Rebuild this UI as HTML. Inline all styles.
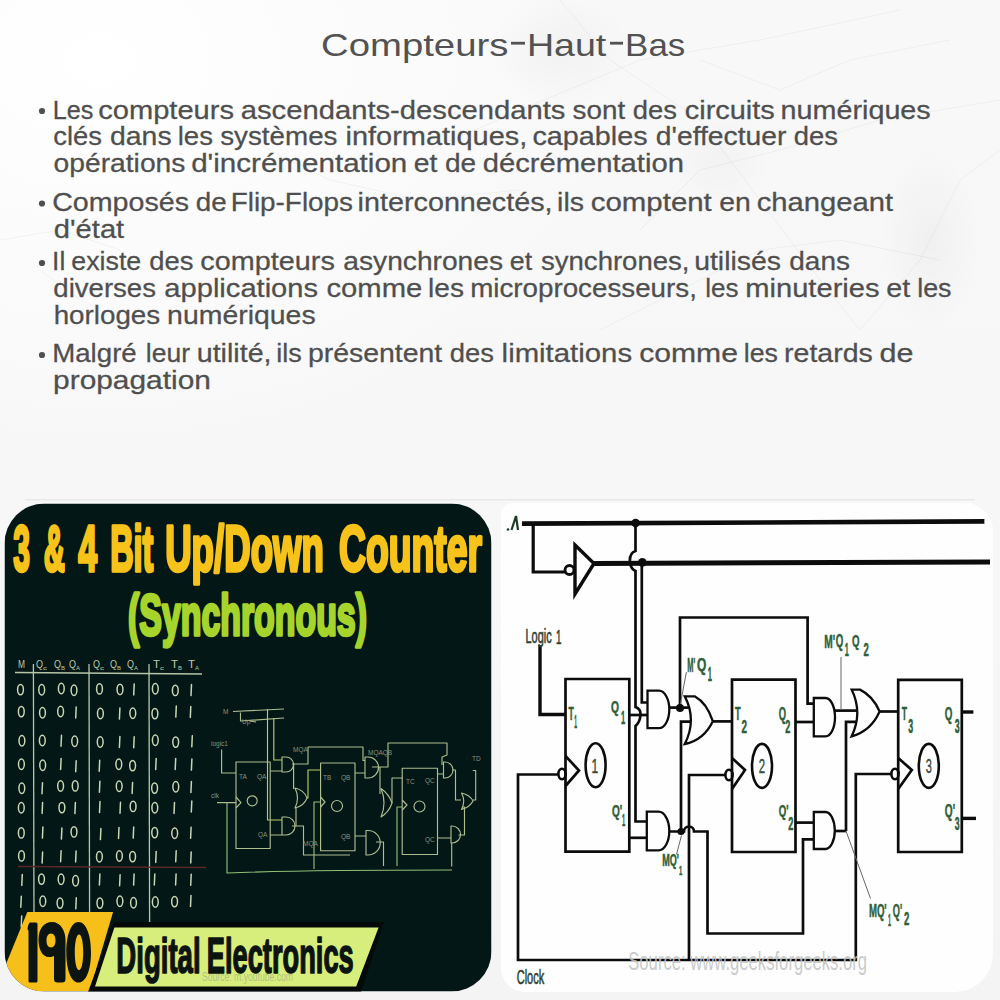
<!DOCTYPE html>
<html><head><meta charset="utf-8">
<style>
html,body{margin:0;padding:0;width:1000px;height:1000px;overflow:hidden;}
body{background:radial-gradient(ellipse 55% 40% at 10% 6%, #ffffff 0%, rgba(255,255,255,0) 100%),radial-gradient(ellipse 7% 6% at 56% 5%, rgba(0,0,0,0.035), rgba(0,0,0,0) 100%),radial-gradient(ellipse 5% 9% at 93% 24%, rgba(0,0,0,0.03), rgba(0,0,0,0) 100%),radial-gradient(ellipse 5% 5% at 72% 16%, rgba(0,0,0,0.025), rgba(0,0,0,0) 100%),linear-gradient(#f8f8f8 0%, #f7f7f7 60%, #f4f4f4 100%);font-family:"Liberation Sans",sans-serif;position:relative;}
svg{position:absolute;left:0;top:0;}
</style></head><body>
<svg width="1000" height="1000" viewBox="0 0 1000 1000">
<g id="tex" fill="none" stroke="#000" stroke-opacity="0.045" stroke-width="1">
<path d="M560,0 L610,60 L700,120 L760,200 L820,280 L860,330"/>
<path d="M430,150 L520,110 L640,60 L760,40 L900,10"/>
<path d="M640,230 L700,170 L780,150 L880,120 L1000,100"/>
<path d="M700,60 L780,90 L850,60 L950,40"/>
<path d="M860,330 L920,260 L960,180 L1000,150"/>
<path d="M600,330 L680,290 L760,250 L840,240 L940,260"/>
<path d="M0,240 L60,230 L120,250 M40,270 L80,300"/>
<path d="M250,140 L330,180 L420,200 L520,190"/>
</g>
<!--TEXTSTART-->
<g font-family="Liberation Sans, sans-serif" stroke="#4f4f4f" stroke-width="0.25">
<text x="321.05" y="55.50" font-size="32.20" fill="#525252" textLength="187.33" lengthAdjust="spacingAndGlyphs" stroke-width="0">Compteurs</text>
<text x="526.92" y="55.50" font-size="32.20" fill="#525252" textLength="79.36" lengthAdjust="spacingAndGlyphs" stroke-width="0">Haut</text>
<text x="625.14" y="55.50" font-size="32.20" fill="#525252" textLength="60.12" lengthAdjust="spacingAndGlyphs" stroke-width="0">Bas</text>
<rect x="511" y="41.8" width="14" height="2.8" fill="#525252" stroke-width="0"/><rect x="610" y="41.8" width="13" height="2.8" fill="#525252" stroke-width="0"/>
<g transform="translate(0 118.75) scale(1 1.05) translate(0 -118.75)">
<text x="52.68" y="118.75" font-size="24.00" fill="#4f4f4f" textLength="40.63" lengthAdjust="spacingAndGlyphs">Les</text>
<text x="98.26" y="118.75" font-size="24.00" fill="#4f4f4f" textLength="135.79" lengthAdjust="spacingAndGlyphs">compteurs</text>
<text x="240.76" y="118.75" font-size="24.00" fill="#4f4f4f" textLength="324.70" lengthAdjust="spacingAndGlyphs">ascendants-descendants</text>
<text x="572.63" y="118.75" font-size="24.00" fill="#4f4f4f" textLength="52.58" lengthAdjust="spacingAndGlyphs">sont</text>
<text x="632.85" y="118.75" font-size="24.00" fill="#4f4f4f" textLength="44.14" lengthAdjust="spacingAndGlyphs">des</text>
<text x="684.77" y="118.75" font-size="24.00" fill="#4f4f4f" textLength="89.97" lengthAdjust="spacingAndGlyphs">circuits</text>
<text x="780.59" y="118.75" font-size="24.00" fill="#4f4f4f" textLength="150.15" lengthAdjust="spacingAndGlyphs">numériques</text>
</g>
<g transform="translate(0 145.50) scale(1 1.05) translate(0 -145.50)">
<text x="53.34" y="145.50" font-size="24.00" fill="#4f4f4f" textLength="48.65" lengthAdjust="spacingAndGlyphs">clés</text>
<text x="110.01" y="145.50" font-size="24.00" fill="#4f4f4f" textLength="61.62" lengthAdjust="spacingAndGlyphs">dans</text>
<text x="177.74" y="145.50" font-size="24.00" fill="#4f4f4f" textLength="35.25" lengthAdjust="spacingAndGlyphs">les</text>
<text x="220.23" y="145.50" font-size="24.00" fill="#4f4f4f" textLength="117.28" lengthAdjust="spacingAndGlyphs">systèmes</text>
<text x="345.56" y="145.50" font-size="24.00" fill="#4f4f4f" textLength="181.74" lengthAdjust="spacingAndGlyphs">informatiques,</text>
<text x="532.48" y="145.50" font-size="24.00" fill="#4f4f4f" textLength="115.06" lengthAdjust="spacingAndGlyphs">capables</text>
<text x="655.82" y="145.50" font-size="24.00" fill="#4f4f4f" textLength="130.65" lengthAdjust="spacingAndGlyphs">d'effectuer</text>
<text x="793.85" y="145.50" font-size="24.00" fill="#4f4f4f" textLength="44.14" lengthAdjust="spacingAndGlyphs">des</text>
</g>
<g transform="translate(0 172.00) scale(1 1.05) translate(0 -172.00)">
<text x="53.61" y="172.00" font-size="24.00" fill="#4f4f4f" textLength="131.81" lengthAdjust="spacingAndGlyphs">opérations</text>
<text x="191.16" y="172.00" font-size="24.00" fill="#4f4f4f" textLength="216.16" lengthAdjust="spacingAndGlyphs">d'incrémentation</text>
<text x="413.80" y="172.00" font-size="24.00" fill="#4f4f4f" textLength="23.61" lengthAdjust="spacingAndGlyphs">et</text>
<text x="445.02" y="172.00" font-size="24.00" fill="#4f4f4f" textLength="31.23" lengthAdjust="spacingAndGlyphs">de</text>
<text x="482.77" y="172.00" font-size="24.00" fill="#4f4f4f" textLength="201.12" lengthAdjust="spacingAndGlyphs">décrémentation</text>
</g>
<g transform="translate(0 211.50) scale(1 1.05) translate(0 -211.50)">
<text x="52.15" y="211.50" font-size="24.00" fill="#4f4f4f" textLength="136.89" lengthAdjust="spacingAndGlyphs">Composés</text>
<text x="195.83" y="211.50" font-size="24.00" fill="#4f4f4f" textLength="30.90" lengthAdjust="spacingAndGlyphs">de</text>
<text x="230.71" y="211.50" font-size="24.00" fill="#4f4f4f" textLength="122.29" lengthAdjust="spacingAndGlyphs">Flip-Flops</text>
<text x="357.58" y="211.50" font-size="24.00" fill="#4f4f4f" textLength="195.01" lengthAdjust="spacingAndGlyphs">interconnectés,</text>
<text x="557.09" y="211.50" font-size="24.00" fill="#4f4f4f" textLength="26.94" lengthAdjust="spacingAndGlyphs">ils</text>
<text x="590.75" y="211.50" font-size="24.00" fill="#4f4f4f" textLength="121.07" lengthAdjust="spacingAndGlyphs">comptent</text>
<text x="719.30" y="211.50" font-size="24.00" fill="#4f4f4f" textLength="31.55" lengthAdjust="spacingAndGlyphs">en</text>
<text x="756.76" y="211.50" font-size="24.00" fill="#4f4f4f" textLength="136.45" lengthAdjust="spacingAndGlyphs">changeant</text>
</g>
<g transform="translate(0 238.00) scale(1 1.05) translate(0 -238.00)">
<text x="53.78" y="238.00" font-size="24.00" fill="#4f4f4f" textLength="70.44" lengthAdjust="spacingAndGlyphs">d'état</text>
</g>
<g transform="translate(0 270.50) scale(1 1.05) translate(0 -270.50)">
<text x="52.06" y="270.50" font-size="24.00" fill="#4f4f4f" textLength="13.20" lengthAdjust="spacingAndGlyphs">Il</text>
<text x="71.36" y="270.50" font-size="24.00" fill="#4f4f4f" textLength="69.82" lengthAdjust="spacingAndGlyphs">existe</text>
<text x="149.35" y="270.50" font-size="24.00" fill="#4f4f4f" textLength="44.24" lengthAdjust="spacingAndGlyphs">des</text>
<text x="200.38" y="270.50" font-size="24.00" fill="#4f4f4f" textLength="134.46" lengthAdjust="spacingAndGlyphs">compteurs</text>
<text x="343.30" y="270.50" font-size="24.00" fill="#4f4f4f" textLength="159.71" lengthAdjust="spacingAndGlyphs">asynchrones</text>
<text x="509.86" y="270.50" font-size="24.00" fill="#4f4f4f" textLength="22.33" lengthAdjust="spacingAndGlyphs">et</text>
<text x="541.03" y="270.50" font-size="24.00" fill="#4f4f4f" textLength="148.44" lengthAdjust="spacingAndGlyphs">synchrones,</text>
<text x="694.15" y="270.50" font-size="24.00" fill="#4f4f4f" textLength="86.87" lengthAdjust="spacingAndGlyphs">utilisés</text>
<text x="789.32" y="270.50" font-size="24.00" fill="#4f4f4f" textLength="60.69" lengthAdjust="spacingAndGlyphs">dans</text>
</g>
<g transform="translate(0 297.00) scale(1 1.05) translate(0 -297.00)">
<text x="53.34" y="297.00" font-size="24.00" fill="#4f4f4f" textLength="102.65" lengthAdjust="spacingAndGlyphs">diverses</text>
<text x="164.36" y="297.00" font-size="24.00" fill="#4f4f4f" textLength="153.69" lengthAdjust="spacingAndGlyphs">applications</text>
<text x="326.46" y="297.00" font-size="24.00" fill="#4f4f4f" textLength="95.84" lengthAdjust="spacingAndGlyphs">comme</text>
<text x="428.11" y="297.00" font-size="24.00" fill="#4f4f4f" textLength="35.91" lengthAdjust="spacingAndGlyphs">les</text>
<text x="470.16" y="297.00" font-size="24.00" fill="#4f4f4f" textLength="226.74" lengthAdjust="spacingAndGlyphs">microprocesseurs,</text>
<text x="705.24" y="297.00" font-size="24.00" fill="#4f4f4f" textLength="33.30" lengthAdjust="spacingAndGlyphs">les</text>
<text x="745.27" y="297.00" font-size="24.00" fill="#4f4f4f" textLength="134.29" lengthAdjust="spacingAndGlyphs">minuteries</text>
<text x="886.28" y="297.00" font-size="24.00" fill="#4f4f4f" textLength="23.93" lengthAdjust="spacingAndGlyphs">et</text>
<text x="917.19" y="297.00" font-size="24.00" fill="#4f4f4f" textLength="34.28" lengthAdjust="spacingAndGlyphs">les</text>
</g>
<g transform="translate(0 323.60) scale(1 1.05) translate(0 -323.60)">
<text x="53.67" y="323.60" font-size="24.00" fill="#4f4f4f" textLength="106.53" lengthAdjust="spacingAndGlyphs">horloges</text>
<text x="167.11" y="323.60" font-size="24.00" fill="#4f4f4f" textLength="148.51" lengthAdjust="spacingAndGlyphs">numériques</text>
</g>
<g transform="translate(0 362.00) scale(1 1.05) translate(0 -362.00)">
<text x="52.23" y="362.00" font-size="24.00" fill="#4f4f4f" textLength="84.50" lengthAdjust="spacingAndGlyphs">Malgré</text>
<text x="145.81" y="362.00" font-size="24.00" fill="#4f4f4f" textLength="44.23" lengthAdjust="spacingAndGlyphs">leur</text>
<text x="196.74" y="362.00" font-size="24.00" fill="#4f4f4f" textLength="74.83" lengthAdjust="spacingAndGlyphs">utilité,</text>
<text x="276.20" y="362.00" font-size="24.00" fill="#4f4f4f" textLength="25.48" lengthAdjust="spacingAndGlyphs">ils</text>
<text x="307.97" y="362.00" font-size="24.00" fill="#4f4f4f" textLength="134.24" lengthAdjust="spacingAndGlyphs">présentent</text>
<text x="449.85" y="362.00" font-size="24.00" fill="#4f4f4f" textLength="44.14" lengthAdjust="spacingAndGlyphs">des</text>
<text x="501.62" y="362.00" font-size="24.00" fill="#4f4f4f" textLength="130.44" lengthAdjust="spacingAndGlyphs">limitations</text>
<text x="639.22" y="362.00" font-size="24.00" fill="#4f4f4f" textLength="98.72" lengthAdjust="spacingAndGlyphs">comme</text>
<text x="743.80" y="362.00" font-size="24.00" fill="#4f4f4f" textLength="34.17" lengthAdjust="spacingAndGlyphs">les</text>
<text x="784.11" y="362.00" font-size="24.00" fill="#4f4f4f" textLength="88.62" lengthAdjust="spacingAndGlyphs">retards</text>
<text x="879.42" y="362.00" font-size="24.00" fill="#4f4f4f" textLength="33.94" lengthAdjust="spacingAndGlyphs">de</text>
</g>
<g transform="translate(0 389.00) scale(1 1.05) translate(0 -389.00)">
<text x="53.07" y="389.00" font-size="24.00" fill="#4f4f4f" textLength="157.87" lengthAdjust="spacingAndGlyphs">propagation</text>
</g>
</g>
<g fill="#4f4f4f">
<circle cx="42" cy="111.0" r="3.1"/>
<circle cx="42" cy="203.5" r="3.1"/>
<circle cx="42" cy="263.0" r="3.1"/>
<circle cx="42" cy="355.0" r="3.1"/>
</g>
<!--TEXTEND-->
<!-- faint separator line -->
<line x1="25" y1="499.8" x2="975" y2="499.8" stroke="#e8e8e8" stroke-width="1.4"/>
<!-- LEFT CARD -->
<!--LEFTSTART-->
<defs><clipPath id="lc"><rect x="4.5" y="503.5" width="487" height="488" rx="40"/></clipPath></defs>
<g clip-path="url(#lc)">
<rect x="4.5" y="503.5" width="487" height="488" fill="#031716"/>
<g font-family="Liberation Sans, sans-serif">
<text x="13.26" y="571.45" font-size="64.39" font-weight="bold" fill="#f7c21a" stroke="#f7c21a" stroke-width="3.50" stroke-linejoin="round" textLength="16.67" lengthAdjust="spacingAndGlyphs">3</text>
<text x="43.87" y="571.45" font-size="64.39" font-weight="bold" fill="#f7c21a" stroke="#f7c21a" stroke-width="3.50" stroke-linejoin="round" textLength="21.10" lengthAdjust="spacingAndGlyphs">&amp;</text>
<text x="78.24" y="571.45" font-size="64.39" font-weight="bold" fill="#f7c21a" stroke="#f7c21a" stroke-width="3.50" stroke-linejoin="round" textLength="18.79" lengthAdjust="spacingAndGlyphs">4</text>
<text x="110.19" y="571.45" font-size="64.39" font-weight="bold" fill="#f7c21a" stroke="#f7c21a" stroke-width="3.50" stroke-linejoin="round" textLength="43.05" lengthAdjust="spacingAndGlyphs">Bit</text>
<text x="165.15" y="571.45" font-size="64.39" font-weight="bold" fill="#f7c21a" stroke="#f7c21a" stroke-width="3.50" stroke-linejoin="round" textLength="158.77" lengthAdjust="spacingAndGlyphs">Up/Down</text>
<text x="338.92" y="571.45" font-size="64.39" font-weight="bold" fill="#f7c21a" stroke="#f7c21a" stroke-width="3.50" stroke-linejoin="round" textLength="143.20" lengthAdjust="spacingAndGlyphs">Counter</text>
<text x="128.06" y="634.75" font-size="57.68" font-weight="bold" fill="#a6d42b" stroke="#a6d42b" stroke-width="3.50" stroke-linejoin="round" textLength="238.87" lengthAdjust="spacingAndGlyphs">(Synchronous)</text>
</g>
<g stroke="#b8c6a8" stroke-width="1.3" fill="none">
<path d="M15,672.5 L202,674"/>
<path d="M33.4,664 L34.0,925"/>
<path d="M89.0,664 L89.6,925"/>
<path d="M149.0,664 L149.6,925"/>
</g>
<path d="M18,866.5 L206,867.5" stroke="#5a2626" stroke-width="1.6"/>
<g fill="none" stroke="#c8d6b4" stroke-width="1.5" stroke-linecap="round">
<ellipse cx="20.5" cy="689.6" rx="2.9" ry="5.2"/>
<ellipse cx="41.7" cy="689.7" rx="2.9" ry="5.2"/>
<ellipse cx="61.3" cy="688.5" rx="2.9" ry="5.2"/>
<ellipse cx="74.0" cy="690.3" rx="2.9" ry="5.2"/>
<ellipse cx="99.5" cy="688.9" rx="2.9" ry="5.2"/>
<ellipse cx="120.0" cy="689.4" rx="2.9" ry="5.2"/>
<path d="M134.2,683.9 L133.7,694.9"/>
<ellipse cx="155.3" cy="688.7" rx="2.9" ry="5.2"/>
<ellipse cx="175.3" cy="690.4" rx="2.9" ry="5.2"/>
<path d="M191.5,684.6 L191.0,695.6"/>
<ellipse cx="21.3" cy="711.6" rx="2.9" ry="5.2"/>
<ellipse cx="42.5" cy="712.8" rx="2.9" ry="5.2"/>
<ellipse cx="60.6" cy="711.5" rx="2.9" ry="5.2"/>
<path d="M76.2,707.0 L75.7,718.0"/>
<ellipse cx="100.4" cy="713.5" rx="2.9" ry="5.2"/>
<path d="M119.9,708.1 L119.4,719.1"/>
<ellipse cx="132.8" cy="713.3" rx="2.9" ry="5.2"/>
<ellipse cx="154.9" cy="713.6" rx="2.9" ry="5.2"/>
<path d="M176.3,706.1 L175.8,717.1"/>
<path d="M190.8,706.4 L190.3,717.4"/>
<ellipse cx="21.9" cy="740.8" rx="2.9" ry="5.2"/>
<ellipse cx="42.3" cy="740.5" rx="2.9" ry="5.2"/>
<path d="M61.5,735.2 L61.0,746.2"/>
<ellipse cx="74.7" cy="741.2" rx="2.9" ry="5.2"/>
<ellipse cx="100.2" cy="742.0" rx="2.9" ry="5.2"/>
<path d="M119.9,736.5 L119.4,747.5"/>
<path d="M134.2,736.7 L133.7,747.7"/>
<ellipse cx="155.3" cy="740.2" rx="2.9" ry="5.2"/>
<ellipse cx="175.7" cy="742.1" rx="2.9" ry="5.2"/>
<path d="M192.3,735.7 L191.8,746.7"/>
<ellipse cx="21.4" cy="764.3" rx="2.9" ry="5.2"/>
<ellipse cx="42.7" cy="765.2" rx="2.9" ry="5.2"/>
<path d="M61.1,758.5 L60.6,769.5"/>
<path d="M76.2,760.7 L75.7,771.7"/>
<path d="M99.7,760.2 L99.2,771.2"/>
<ellipse cx="118.8" cy="764.2" rx="2.9" ry="5.2"/>
<ellipse cx="132.6" cy="765.6" rx="2.9" ry="5.2"/>
<path d="M156.2,758.4 L155.7,769.4"/>
<path d="M175.7,758.4 L175.2,769.4"/>
<path d="M191.9,759.1 L191.4,770.1"/>
<ellipse cx="21.8" cy="788.2" rx="2.9" ry="5.2"/>
<path d="M42.5,782.7 L42.0,793.7"/>
<ellipse cx="60.6" cy="786.0" rx="2.9" ry="5.2"/>
<ellipse cx="75.2" cy="785.9" rx="2.9" ry="5.2"/>
<path d="M99.9,781.3 L99.4,792.3"/>
<ellipse cx="119.2" cy="786.2" rx="2.9" ry="5.2"/>
<path d="M132.6,782.4 L132.1,793.4"/>
<ellipse cx="154.6" cy="788.1" rx="2.9" ry="5.2"/>
<ellipse cx="175.8" cy="786.7" rx="2.9" ry="5.2"/>
<path d="M191.4,781.5 L190.9,792.5"/>
<ellipse cx="21.3" cy="807.8" rx="2.9" ry="5.2"/>
<path d="M42.6,802.4 L42.1,813.4"/>
<ellipse cx="61.9" cy="807.6" rx="2.9" ry="5.2"/>
<path d="M75.4,802.6 L74.9,813.6"/>
<path d="M100.0,801.6 L99.5,812.6"/>
<path d="M120.5,802.2 L120.0,813.2"/>
<ellipse cx="133.1" cy="806.4" rx="2.9" ry="5.2"/>
<ellipse cx="154.8" cy="807.8" rx="2.9" ry="5.2"/>
<path d="M174.5,802.4 L174.0,813.4"/>
<path d="M191.8,801.0 L191.3,812.0"/>
<ellipse cx="21.3" cy="832.9" rx="2.9" ry="5.2"/>
<path d="M42.9,827.1 L42.4,838.1"/>
<path d="M61.9,828.1 L61.4,839.1"/>
<ellipse cx="74.0" cy="831.9" rx="2.9" ry="5.2"/>
<path d="M100.9,828.6 L100.4,839.6"/>
<path d="M119.0,827.4 L118.5,838.4"/>
<path d="M133.7,827.1 L133.2,838.1"/>
<ellipse cx="154.7" cy="832.6" rx="2.9" ry="5.2"/>
<ellipse cx="174.7" cy="833.2" rx="2.9" ry="5.2"/>
<path d="M191.1,827.2 L190.6,838.2"/>
<ellipse cx="21.5" cy="855.9" rx="2.9" ry="5.2"/>
<path d="M42.6,852.1 L42.1,863.1"/>
<path d="M61.1,850.8 L60.6,861.8"/>
<path d="M76.1,850.9 L75.6,861.9"/>
<ellipse cx="99.4" cy="856.8" rx="2.9" ry="5.2"/>
<ellipse cx="119.4" cy="856.0" rx="2.9" ry="5.2"/>
<ellipse cx="132.6" cy="856.6" rx="2.9" ry="5.2"/>
<path d="M156.2,851.4 L155.7,862.4"/>
<path d="M176.2,850.7 L175.7,861.7"/>
<path d="M191.2,851.9 L190.7,862.9"/>
<path d="M22.3,874.4 L21.8,885.4"/>
<ellipse cx="41.5" cy="879.1" rx="2.9" ry="5.2"/>
<ellipse cx="61.1" cy="879.3" rx="2.9" ry="5.2"/>
<ellipse cx="75.6" cy="880.8" rx="2.9" ry="5.2"/>
<path d="M99.9,874.0 L99.4,885.0"/>
<path d="M120.1,874.8 L119.6,885.8"/>
<path d="M134.1,874.1 L133.6,885.1"/>
<path d="M154.8,874.0 L154.3,885.0"/>
<path d="M176.1,874.0 L175.6,885.0"/>
<path d="M191.2,874.3 L190.7,885.3"/>
<path d="M21.3,896.3 L20.8,907.3"/>
<ellipse cx="42.8" cy="901.2" rx="2.9" ry="5.2"/>
<ellipse cx="60.0" cy="903.1" rx="2.9" ry="5.2"/>
<path d="M76.3,897.7 L75.8,908.7"/>
<ellipse cx="99.9" cy="903.1" rx="2.9" ry="5.2"/>
<ellipse cx="119.9" cy="901.3" rx="2.9" ry="5.2"/>
<ellipse cx="133.5" cy="902.8" rx="2.9" ry="5.2"/>
<ellipse cx="155.3" cy="902.0" rx="2.9" ry="5.2"/>
<ellipse cx="174.6" cy="901.6" rx="2.9" ry="5.2"/>
<path d="M191.0,895.5 L190.5,906.5"/>
<path d="M21.7,916.0 L21.2,927.0"/>
<ellipse cx="42.6" cy="920.9" rx="2.9" ry="5.2"/>
<path d="M62.3,917.0 L61.8,928.0"/>
<ellipse cx="75.8" cy="923.0" rx="2.9" ry="5.2"/>
</g>
<g font-family="Liberation Sans, sans-serif" font-size="11" fill="#bccaa6">
<text x="18" y="668" textLength="7" lengthAdjust="spacingAndGlyphs">M</text>
<text x="36" y="668" textLength="7" lengthAdjust="spacingAndGlyphs">Q</text>
<text x="43" y="670" font-size="6" textLength="4" lengthAdjust="spacingAndGlyphs">c</text>
<text x="54" y="668" textLength="7" lengthAdjust="spacingAndGlyphs">Q</text>
<text x="61" y="670" font-size="6" textLength="4" lengthAdjust="spacingAndGlyphs">B</text>
<text x="69" y="668" textLength="7" lengthAdjust="spacingAndGlyphs">Q</text>
<text x="76" y="670" font-size="6" textLength="4" lengthAdjust="spacingAndGlyphs">A</text>
<text x="93" y="668" textLength="7" lengthAdjust="spacingAndGlyphs">Q</text>
<text x="100" y="670" font-size="6" textLength="4" lengthAdjust="spacingAndGlyphs">c</text>
<text x="110" y="668" textLength="7" lengthAdjust="spacingAndGlyphs">Q</text>
<text x="117" y="670" font-size="6" textLength="4" lengthAdjust="spacingAndGlyphs">B</text>
<text x="127" y="668" textLength="7" lengthAdjust="spacingAndGlyphs">Q</text>
<text x="134" y="670" font-size="6" textLength="4" lengthAdjust="spacingAndGlyphs">A</text>
<text x="153" y="668" textLength="7" lengthAdjust="spacingAndGlyphs">T</text>
<text x="160" y="670" font-size="6" textLength="4" lengthAdjust="spacingAndGlyphs">c</text>
<text x="171" y="668" textLength="7" lengthAdjust="spacingAndGlyphs">T</text>
<text x="178" y="670" font-size="6" textLength="4" lengthAdjust="spacingAndGlyphs">B</text>
<text x="188" y="668" textLength="7" lengthAdjust="spacingAndGlyphs">T</text>
<text x="195" y="670" font-size="6" textLength="4" lengthAdjust="spacingAndGlyphs">A</text>
</g>
<g fill="none" stroke="#aebd90" stroke-width="1.15" stroke-linejoin="round">
<path d="M233,711.5 L284,709"/>
<path d="M240.5,712.5 V721 L284,718"/>
<path d="M267.5,709 V820 H282" stroke="#bccb62"/>
<path d="M273.8,718 V760 H282" stroke="#bccb62"/>
<path d="M221.6,749.5 V773 H236"/>
<path d="M236,762 H270.2 V848.5 H236 Z"/>
<path d="M270,771 H282"/>
<path d="M270,835 H282"/>
<path d="M282,757 H286 A7.5,7.5 0 0 1 286,772 H282 Z"/>
<path d="M282,817 H286 A9,9 0 0 1 286,835 H282 Z"/>
<path d="M292,764 H308 V747 H363 V760.5 H365"/>
<path d="M293.6,764 V789" stroke="#bccb62"/>
<path d="M295,788 Q300,798 295,808 Q304,806 307,798 Q304,790 295,788 Z"/>
<path d="M307,798 H308 V770 H320" stroke="#bccb62"/>
<path d="M292,826 H303.5 V855 H350"/>
<path d="M296,826 V807"/>
<path d="M217,802.6 H236"/>
<path d="M236,797 L241,802.6 L236,808"/>
<path d="M227,802 V873 Q300,870 452,870" stroke="#8fbf74"/>
<path d="M320.6,763 H355 V850.7 H320.6 Z"/>
<path d="M314,869 V802 H320" stroke="#8fbf74"/>
<path d="M320.6,797 L325,802 L320.6,807"/>
<path d="M355,773 H365"/>
<path d="M365,757 H368 A10.5,10.5 0 0 1 368,778 H365 Z"/>
<path d="M372,767 H388 V743 H447 V755 L442,757 V765"/>
<path d="M380,767 V794"/>
<path d="M381,788.5 Q387,803 381,817 Q389,812 392,803 Q389,794 381,788.5 Z"/>
<path d="M392,803 V778 H403"/>
<path d="M402.2,768.2 H437.5 V854.5 H402.2 Z"/>
<path d="M397,866 V807 H402" stroke="#8fbf74"/>
<path d="M402.2,800 L407,805 L402.2,810"/>
<path d="M355,836 H366"/>
<path d="M366,830.5 H368 A12,12 0 0 1 368,855 H366 Z"/>
<path d="M376,842 H383.5 V866"/>
<path d="M437.5,774 H443.5"/>
<path d="M443.5,762 H445 A8,8 0 0 1 445,778 H443.5 Z"/>
<path d="M452,770 H455.5 V800 H461"/>
<path d="M461.5,793 Q466,801 461.5,809.5 Q470,807 473,801 Q470,795 461.5,793 Z"/>
<path d="M473,800 H475.7 V770.5 H472.7"/>
<path d="M437.5,838 H451"/>
<path d="M451,826 H452 A8.5,8.5 0 0 1 452,843 H451 Z"/>
<path d="M458.5,835 H464.5 V807 H462"/>
<path d="M451.7,843 V866.5"/>
<path d="M250,721 L256,722"/>
<circle cx="252.2" cy="800.8" r="5"/><circle cx="337" cy="806" r="5.5"/><circle cx="419.5" cy="806.5" r="5.5"/>
</g>
<g font-family="Liberation Sans, sans-serif" font-size="6.5" fill="#87957a">
<text x="223" y="714">M</text>
<text x="242" y="724">Up</text>
<text x="211" y="746">logic1</text>
<text x="211" y="798">clk</text>
<text x="239" y="779">TA</text>
<text x="257" y="779">QA</text>
<text x="258" y="837">QA</text>
<text x="293" y="752">MQA</text>
<text x="303" y="846">MQA</text>
<text x="323" y="780">TB</text>
<text x="341" y="780">QB</text>
<text x="341" y="839">QB</text>
<text x="368" y="755">MQAQB</text>
<text x="406" y="784">TC</text>
<text x="425" y="783">QC</text>
<text x="425" y="842">QC</text>
<text x="472" y="761">TD</text>
</g>
<path d="M27.3,912 H113.1 L89.7,991 H-5 Z" fill="#f6bf1a"/>
<path d="M114,922 H384 L361,992 H88 Z" fill="#050a08"/>
<path d="M114.4,927.6 H378.6 L356.2,986.6 H95 Z" fill="#d8ee7c"/>
<g font-family="Liberation Sans, sans-serif">
<g fill="#0b1410" fill-rule="evenodd">
<path d="M30,922.5 H36 Q37.5,922.5 37.5,924 V981 Q37.5,982.6 36,982.6 H30 Q28.5,982.6 28.5,981 V931 L27.5,929 Q28,923.5 30,922.5 Z"/>
<path d="M52,922 C60,922 65.5,930 65.5,940 V979 Q65.5,982.6 62,982.6 H57.5 Q54,982.6 54,979 V956 C52,957 50.5,957 49,957 C42,957 38.5,949 38.5,939.5 C38.5,929 44,922 52,922 Z M51,933.5 C48,933.5 46.5,936.5 46.5,940.5 C46.5,944.5 48,947.5 51,947.5 C54,947.5 55.5,944.5 55.5,940.5 C55.5,936.5 54,933.5 51,933.5 Z"/>
<path d="M78.6,922 C86,922 91,935 91,952.3 C91,970 86,982.6 78.6,982.6 C71,982.6 66.3,970 66.3,952.3 C66.3,935 71,922 78.6,922 Z M79,934.5 C76.5,934.5 74.8,942 74.8,952.3 C74.8,962.5 76.5,970.2 79,970.2 C81.5,970.2 83.2,962.5 83.2,952.3 C83.2,942 81.5,934.5 79,934.5 Z"/>
</g>
<text x="116.36" y="973.00" font-size="49.66" font-weight="bold" fill="#0b1410" stroke="#0b1410" stroke-width="1.60" stroke-linejoin="round" textLength="84.19" lengthAdjust="spacingAndGlyphs">Digital</text>
<text x="206.78" y="973.00" font-size="49.66" font-weight="bold" fill="#0b1410" stroke="#0b1410" stroke-width="1.60" stroke-linejoin="round" textLength="146.94" lengthAdjust="spacingAndGlyphs">Electronics</text>
</g>
<text x="202" y="981" font-family="Liberation Sans, sans-serif" font-size="13" fill="#9aa58a" opacity="0.6" textLength="91" lengthAdjust="spacingAndGlyphs">Source: m.youtube.com</text>
</g>
<!--LEFTEND-->
<!--RIGHTSTART-->
<path d="M513,503 H965 A28,28 0 0 1 993,531 V954 A38,38 0 0 1 955,992 H525 A24,24 0 0 1 501,968 V515 A12,12 0 0 1 513,503 Z" fill="#fefefe"/>
<g fill="none" stroke="#0c0c0c" stroke-width="3" stroke-linecap="butt" stroke-linejoin="miter">
<path d="M522,523.6 L984.4,521.4" stroke-width="4.6"/>
<path d="M594,563.5 L990,562" stroke-width="5.0"/>
<path d="M533.2,522 V572 H565" stroke-width="3.2"/>
<path d="M575,545 L594,563.5 L575,594 Z" stroke-width="3.4"/>
<path d="M635.5,523 V551 Q629,553 630,563 Q631,569 635.5,571 V707 Q641,709 640.5,715 Q640,722 635.5,726 V821.5 H647" stroke-width="2.7"/>
<path d="M641.8,562 V702.5 H647.5" stroke-width="2.7"/>
<path d="M540,645 V714.5 H565.5" stroke-width="3.4"/>
<path d="M565.5,679 H629.3 V851.7 H565.5 Z" stroke-width="2.7"/>
<path d="M629.3,715 H647.5" stroke-width="2.7"/>
<path d="M647.5,690.7 H659 A10.3,18.75 0 0 1 659,728.2 H647.5 Z" stroke-width="2.3"/>
<path d="M669.3,707.6 H689" stroke-width="2.7"/>
<path d="M680,708 V617.5 H807.6 V703.6 H813.8" stroke-width="2.7"/>
<path d="M684.8,696.4 H695 Q707,703 712.8,721.2 Q704,740 684.8,744 Q697,720 684.8,696.4 Z" stroke-width="2.3"/>
<path d="M681,832 V721.6 H691" stroke-width="2.7"/>
<path d="M712.8,721.4 H732" stroke-width="2.7"/>
<path d="M732,679.6 H795.5 V852 H732 Z" stroke-width="2.7"/>
<path d="M795.5,722 H813.8" stroke-width="2.7"/>
<path d="M813.8,698 H825.5 A9.5,19.2 0 0 1 825.5,736.4 H813.8 Z" stroke-width="2.3"/>
<path d="M834.8,710.6 H857" stroke-width="2.7"/>
<path d="M851.6,689.6 H860 Q873,696 879.6,711.5 Q871,731 851.6,736.4 Q863,713 851.6,689.6 Z" stroke-width="2.3"/>
<path d="M846,831 V721.8 H857" stroke-width="2.7"/>
<path d="M879.6,711.5 H898.4" stroke-width="2.7"/>
<path d="M898.2,679.8 H961.8 V852 H898.2 Z" stroke-width="2.7"/>
<path d="M961.8,712 H973.4" stroke-width="3.4"/>
<path d="M558.5,774.5 H518 V960 H855.8 V774 H891.5" stroke-width="2.7"/>
<path d="M565.5,756 L579,770.5 L565.5,786" stroke-width="2.7"/>
<path d="M629.3,837.8 H647" stroke-width="2.7"/>
<path d="M646.8,811.7 H658.5 A10.8,19.35 0 0 1 658.5,850.4 H646.8 Z" stroke-width="2.3"/>
<path d="M669.3,831.5 H684 A5,5 0 0 1 694,831.5 H707.5 V933.5 H803 V839.4 H813.8" stroke-width="2.7"/>
<path d="M689,960 V775 H725.4" stroke-width="2.7"/>
<path d="M732,758 L745,770 L732,789" stroke-width="2.7"/>
<path d="M795.5,822.6 H813.8" stroke-width="2.7"/>
<path d="M813.8,812 H825.5 A9.3,18.5 0 0 1 825.5,849 H813.8 Z" stroke-width="2.3"/>
<path d="M834.8,831 H846" stroke-width="2.7"/>
<path d="M898.2,758 L911.8,770 L898.2,789" stroke-width="2.7"/>
<path d="M961.8,818.4 H976" stroke-width="3.4"/>
<circle cx="569.5" cy="570" r="4.5" stroke-width="2.8"/>
<ellipse cx="562" cy="774" rx="3.6" ry="5.3" stroke-width="2.6"/>
<ellipse cx="729" cy="775" rx="3.6" ry="5.3" stroke-width="2.6"/>
<ellipse cx="895" cy="774" rx="3.6" ry="5.3" stroke-width="2.6"/>
<ellipse cx="595.6" cy="765.2" rx="10" ry="22" stroke-width="2.6"/>
<ellipse cx="762" cy="765.9" rx="10" ry="22" stroke-width="2.6"/>
<ellipse cx="928.8" cy="765.9" rx="10" ry="22" stroke-width="2.6"/>
<g stroke="#666" stroke-width="1">
<path d="M686.4,672 L680.4,704"/>
<path d="M841,657 V710"/>
<path d="M681.5,835.5 L676.5,854.4"/>
<path d="M846,831 L870.5,898.5"/>
</g></g>
<g fill="#0c0c0c"><circle cx="635.6" cy="523" r="4.3"/><circle cx="642.3" cy="562.4" r="4.3"/><circle cx="680" cy="708" r="4"/><circle cx="681" cy="831.5" r="3.6"/></g>
<g font-family="Liberation Sans, sans-serif">
<text x="568.55" y="719.75" font-size="17.86" font-weight="bold" fill="#2f5f37" stroke="#2f5f37" stroke-width="0.50" stroke-linejoin="round" textLength="5.29" lengthAdjust="spacingAndGlyphs">T</text>
<text x="574.34" y="727.95" font-size="18.14" font-weight="bold" fill="#2f5f37" stroke="#2f5f37" stroke-width="0.50" stroke-linejoin="round" textLength="2.75" lengthAdjust="spacingAndGlyphs">1</text>
<text x="611.03" y="712.95" font-size="15.57" font-weight="bold" fill="#2f5f37" stroke="#2f5f37" stroke-width="0.50" stroke-linejoin="round" textLength="7.95" lengthAdjust="spacingAndGlyphs">Q</text>
<text x="620.98" y="723.55" font-size="17.57" font-weight="bold" fill="#2f5f37" stroke="#2f5f37" stroke-width="0.50" stroke-linejoin="round" textLength="4.18" lengthAdjust="spacingAndGlyphs">1</text>
<text x="687.35" y="672.15" font-size="19.29" font-weight="bold" fill="#2f5f37" stroke="#2f5f37" stroke-width="0.50" stroke-linejoin="round" textLength="7.98" lengthAdjust="spacingAndGlyphs">M'</text>
<text x="696.96" y="671.25" font-size="18.00" font-weight="bold" fill="#2f5f37" stroke="#2f5f37" stroke-width="0.50" stroke-linejoin="round" textLength="9.29" lengthAdjust="spacingAndGlyphs">Q</text>
<text x="707.78" y="680.55" font-size="19.29" font-weight="bold" fill="#2f5f37" stroke="#2f5f37" stroke-width="0.50" stroke-linejoin="round" textLength="4.18" lengthAdjust="spacingAndGlyphs">1</text>
<text x="735.05" y="719.55" font-size="17.71" font-weight="bold" fill="#2f5f37" stroke="#2f5f37" stroke-width="0.50" stroke-linejoin="round" textLength="5.60" lengthAdjust="spacingAndGlyphs">T</text>
<text x="741.40" y="732.55" font-size="18.86" font-weight="bold" fill="#2f5f37" stroke="#2f5f37" stroke-width="0.50" stroke-linejoin="round" textLength="5.54" lengthAdjust="spacingAndGlyphs">2</text>
<text x="778.87" y="720.25" font-size="18.71" font-weight="bold" fill="#2f5f37" stroke="#2f5f37" stroke-width="0.50" stroke-linejoin="round" textLength="7.28" lengthAdjust="spacingAndGlyphs">Q</text>
<text x="785.23" y="732.55" font-size="18.86" font-weight="bold" fill="#2f5f37" stroke="#2f5f37" stroke-width="0.50" stroke-linejoin="round" textLength="5.08" lengthAdjust="spacingAndGlyphs">2</text>
<text x="824.17" y="647.85" font-size="18.57" font-weight="bold" fill="#2f5f37" stroke="#2f5f37" stroke-width="0.50" stroke-linejoin="round" textLength="10.91" lengthAdjust="spacingAndGlyphs">M'</text>
<text x="835.85" y="647.25" font-size="17.71" font-weight="bold" fill="#2f5f37" stroke="#2f5f37" stroke-width="0.50" stroke-linejoin="round" textLength="7.50" lengthAdjust="spacingAndGlyphs">Q</text>
<text x="844.79" y="655.95" font-size="19.00" font-weight="bold" fill="#2f5f37" stroke="#2f5f37" stroke-width="0.50" stroke-linejoin="round" textLength="4.06" lengthAdjust="spacingAndGlyphs">1</text>
<text x="852.05" y="647.25" font-size="17.14" font-weight="bold" fill="#2f5f37" stroke="#2f5f37" stroke-width="0.50" stroke-linejoin="round" textLength="7.50" lengthAdjust="spacingAndGlyphs">Q</text>
<text x="863.52" y="655.95" font-size="18.14" font-weight="bold" fill="#2f5f37" stroke="#2f5f37" stroke-width="0.50" stroke-linejoin="round" textLength="5.31" lengthAdjust="spacingAndGlyphs">2</text>
<text x="901.75" y="719.75" font-size="17.86" font-weight="bold" fill="#2f5f37" stroke="#2f5f37" stroke-width="0.50" stroke-linejoin="round" textLength="5.29" lengthAdjust="spacingAndGlyphs">T</text>
<text x="908.25" y="732.75" font-size="19.29" font-weight="bold" fill="#2f5f37" stroke="#2f5f37" stroke-width="0.50" stroke-linejoin="round" textLength="4.92" lengthAdjust="spacingAndGlyphs">3</text>
<text x="944.85" y="720.25" font-size="18.57" font-weight="bold" fill="#2f5f37" stroke="#2f5f37" stroke-width="0.50" stroke-linejoin="round" textLength="7.61" lengthAdjust="spacingAndGlyphs">Q</text>
<text x="954.85" y="732.75" font-size="19.29" font-weight="bold" fill="#2f5f37" stroke="#2f5f37" stroke-width="0.50" stroke-linejoin="round" textLength="4.92" lengthAdjust="spacingAndGlyphs">3</text>
<text x="612.04" y="817.25" font-size="17.29" font-weight="bold" fill="#2f5f37" stroke="#2f5f37" stroke-width="0.50" stroke-linejoin="round" textLength="10.23" lengthAdjust="spacingAndGlyphs">Q'</text>
<text x="621.88" y="825.75" font-size="16.57" font-weight="bold" fill="#2f5f37" stroke="#2f5f37" stroke-width="0.50" stroke-linejoin="round" textLength="3.23" lengthAdjust="spacingAndGlyphs">1</text>
<text x="662.24" y="866.25" font-size="16.57" font-weight="bold" fill="#2f5f37" stroke="#2f5f37" stroke-width="0.50" stroke-linejoin="round" textLength="16.78" lengthAdjust="spacingAndGlyphs">MQ'</text>
<text x="679.08" y="874.85" font-size="13.43" font-weight="bold" fill="#2f5f37" stroke="#2f5f37" stroke-width="0.50" stroke-linejoin="round" textLength="3.23" lengthAdjust="spacingAndGlyphs">1</text>
<text x="778.65" y="816.75" font-size="17.00" font-weight="bold" fill="#2f5f37" stroke="#2f5f37" stroke-width="0.50" stroke-linejoin="round" textLength="9.79" lengthAdjust="spacingAndGlyphs">Q'</text>
<text x="788.13" y="829.55" font-size="17.86" font-weight="bold" fill="#2f5f37" stroke="#2f5f37" stroke-width="0.50" stroke-linejoin="round" textLength="5.20" lengthAdjust="spacingAndGlyphs">2</text>
<text x="944.84" y="817.25" font-size="18.29" font-weight="bold" fill="#2f5f37" stroke="#2f5f37" stroke-width="0.50" stroke-linejoin="round" textLength="10.23" lengthAdjust="spacingAndGlyphs">Q'</text>
<text x="954.85" y="829.55" font-size="17.86" font-weight="bold" fill="#2f5f37" stroke="#2f5f37" stroke-width="0.50" stroke-linejoin="round" textLength="4.81" lengthAdjust="spacingAndGlyphs">3</text>
<text x="868.91" y="916.95" font-size="18.86" font-weight="bold" fill="#2f5f37" stroke="#2f5f37" stroke-width="0.50" stroke-linejoin="round" textLength="17.74" lengthAdjust="spacingAndGlyphs">MQ'</text>
<text x="888.11" y="925.75" font-size="17.29" font-weight="bold" fill="#2f5f37" stroke="#2f5f37" stroke-width="0.50" stroke-linejoin="round" textLength="2.99" lengthAdjust="spacingAndGlyphs">1</text>
<text x="892.87" y="916.95" font-size="18.86" font-weight="bold" fill="#2f5f37" stroke="#2f5f37" stroke-width="0.50" stroke-linejoin="round" textLength="9.35" lengthAdjust="spacingAndGlyphs">Q'</text>
<text x="904.02" y="925.45" font-size="17.71" font-weight="bold" fill="#2f5f37" stroke="#2f5f37" stroke-width="0.50" stroke-linejoin="round" textLength="5.31" lengthAdjust="spacingAndGlyphs">2</text>
<text x="525.51" y="643.29" font-size="19.31" fill="#2a4030" stroke="#2a4030" stroke-width="0.60" stroke-linejoin="round" textLength="26.08" lengthAdjust="spacingAndGlyphs">Logic</text>
<text x="555.96" y="643.70" font-size="19.86" fill="#2a4030" stroke="#2a4030" stroke-width="0.60" stroke-linejoin="round" textLength="5.42" lengthAdjust="spacingAndGlyphs">1</text>
<text x="516.74" y="984.20" font-size="20.75" fill="#2a4030" stroke="#2a4030" stroke-width="0.60" stroke-linejoin="round" textLength="27.44" lengthAdjust="spacingAndGlyphs">Clock</text>
<path d="M507,530 L509,529 M511.5,530 L516,516 L518,530" fill="none" stroke="#1f3a26" stroke-width="2.2"/>
</g>
<g font-family="Liberation Sans, sans-serif" fill="#3a3a3a">
<text x="591.48" y="772.80" font-size="19.43" fill="#3a4a3a" stroke="#3a4a3a" stroke-width="0.40" stroke-linejoin="round" textLength="6.71" lengthAdjust="spacingAndGlyphs">1</text>
<text x="758.83" y="772.80" font-size="19.43" fill="#3a4a3a" stroke="#3a4a3a" stroke-width="0.40" stroke-linejoin="round" textLength="6.35" lengthAdjust="spacingAndGlyphs">2</text>
<text x="925.78" y="772.80" font-size="19.43" fill="#3a4a3a" stroke="#3a4a3a" stroke-width="0.40" stroke-linejoin="round" textLength="6.10" lengthAdjust="spacingAndGlyphs">3</text>
</g>
<text x="628.25" y="969.64" font-size="25.53" fill="#c4c4c4" textLength="238.82" lengthAdjust="spacingAndGlyphs" fill-opacity="0.9">Source: www.geeksforgeeks.org</text>
<!--RIGHTEND-->
</svg>
</body></html>
